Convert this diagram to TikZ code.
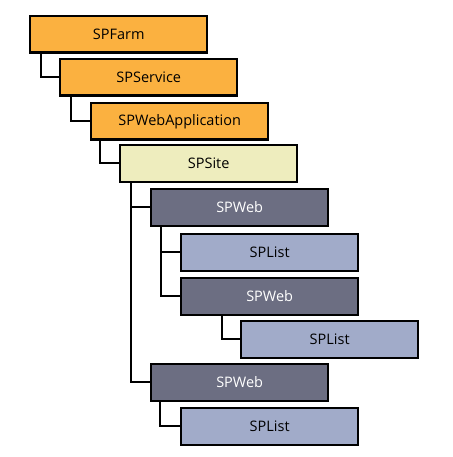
\documentclass[tikz,border=0pt]{standalone}
\usepackage{fontspec}
\setmainfont{Open Sans}
\usepackage{tikz}

\definecolor{farmorange}{RGB}{251,177,64}
\definecolor{siteyellow}{RGB}{238,237,190}
\definecolor{webslate}{RGB}{108,110,130}
\definecolor{listblue}{RGB}{161,171,201}

\begin{document}
\begin{tikzpicture}[x=1pt, y=-1pt,
  obj/.style={draw=black, line width=2.4pt, anchor=north west, minimum width=177pt, minimum height=36.5pt, inner sep=0pt, font=\fontsize{14.5}{17}\selectfont},
  farm/.style={obj, fill=farmorange},
  site/.style={obj, fill=siteyellow},
  web/.style={obj, fill=webslate, text=white},
  list/.style={obj, fill=listblue},
  link/.style={line width=2pt}]
  \useasboundingbox (0,0) rectangle (452,457);

  \node[farm] (spfarm) at (29,15) {SPFarm};
  \node[farm] (spservice) at (59,58) {SPService};
  \node[farm] (spwebapp) at (90,102) {SPWebApplication};
  \node[site] (spsite) at (119,144) {SPSite};
  \node[web] (web-1) at (150,188) {SPWeb};
  \node[list] (list-1) at (180,233) {SPList};
  \node[web] (web-2) at (180,277) {SPWeb};
  \node[list] (list-2) at (240,320) {SPList};
  \node[web] (web-3) at (150,363) {SPWeb};
  \node[list] (list-3) at (180,407) {SPList};

  \draw[link] ([xshift=12pt]spfarm.south west) |- (spservice.west);
  \draw[link] ([xshift=12pt]spservice.south west) |- (spwebapp.west);
  \draw[link] ([xshift=10pt]spwebapp.south west) |- (spsite.west);
  \draw[link] ([xshift=12pt]spsite.south west) |- (web-1.west);
  \draw[link] ([xshift=12pt]spsite.south west) |- (web-3.west);
  \draw[link] ([xshift=11pt]web-1.south west) |- (list-1.west);
  \draw[link] ([xshift=11pt]web-1.south west) |- (web-2.west);
  \draw[link] ([xshift=42pt]web-2.south west) |- (list-2.west);
  \draw[link] ([xshift=10pt]web-3.south west) |- (list-3.west);
\end{tikzpicture}
\end{document}
